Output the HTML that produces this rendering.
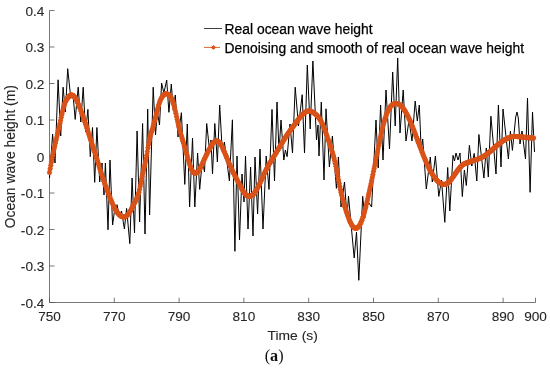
<!DOCTYPE html>
<html lang="en"><head><meta charset="utf-8"><title>Ocean wave height</title>
<style>html,body{margin:0;padding:0;background:#fff}body{width:550px;height:368px;overflow:hidden}</style></head>
<body>
<svg width="550" height="368" viewBox="0 0 550 368" style="display:block">
<rect width="550" height="368" fill="#fff"/>
<g stroke="#555" stroke-width="0.8" fill="none">
<path d="M49.5 10.5 V302.5 H535.5"/>
<path d="M49.5 10.5 h5 M49.5 47 h5 M49.5 83.5 h5 M49.5 120 h5 M49.5 156.5 h5 M49.5 193 h5 M49.5 229.5 h5 M49.5 266 h5 M49.5 302.5 h5 M49.5 302.5 v-4.8 M114.3 302.5 v-4.8 M179.1 302.5 v-4.8 M243.9 302.5 v-4.8 M308.7 302.5 v-4.8 M373.5 302.5 v-4.8 M438.3 302.5 v-4.8 M503.1 302.5 v-4.8 M535.5 302.5 v-4.8"/>
</g>
<path d="M49.5 178 L52.6 134 L55 163 L58.1 79.8 L60.7 136 L63.1 87.2 L65.4 112 L67.7 68.7 L70.8 98.3 L72.8 96.5 L73.6 101 L75.2 119.4 L78.2 87.2 L80.8 122 L83.2 87.2 L85.6 132 L87.9 109.4 L90.3 156.7 L92.5 127.5 L94.7 182.3 L96.9 127.5 L99.7 182 L102 163 L104 195 L105.4 163 L108 229.8 L110 160 L112.6 225 L115 207 L116.2 212 L117 204.7 L119.5 217 L121.5 211 L124.4 229 L126.6 208.4 L129.8 243.6 L132.1 178 L134.5 233 L137.1 131 L139.6 222 L142.6 123.5 L145 234 L147.7 109.2 L149.6 215 L153.2 87.2 L155.5 135 L157.4 112 L159.5 125 L161.6 83.1 L163.9 93 L166.7 80 L168.9 112.3 L171.3 84 L173.3 110 L175.3 95 L178 137 L181.4 112.7 L184.8 184.4 L187.3 124 L189.6 207 L192.5 138 L194.8 207 L197.6 153 L199.7 189.4 L202.3 160 L204.5 172 L206.7 123.5 L209.5 150 L211 140 L212.5 174 L214.8 123.5 L217.4 162 L219.7 105 L222.3 152 L224.4 142 L229.4 181 L232.4 119.8 L234.9 251.3 L237 156 L239.5 240 L242 174 L244 202 L245.5 156 L248 229 L250.6 167 L253 236 L255 157 L257.6 214 L260 149 L263 229 L266.2 156 L269 189.4 L272 109.4 L274.5 181 L277 102 L279 152 L281 120 L283.8 160 L285.4 150 L287.1 156.7 L290 124 L292.5 153 L295.2 87.2 L298.5 126 L302.2 94.7 L304.5 153 L307.3 65 L310.2 129 L312.9 61 L316.5 140 L318 125 L319 156 L321.3 102 L324 180 L326 108.8 L329.4 167 L332.4 136 L336.4 188.4 L338.4 157 L341 207 L344.5 182 L347 217 L348.5 196.3 L354.2 258 L356.5 232 L358.8 280.3 L362.7 196.3 L364.8 218 L367 200 L371.6 207 L376 120 L378.2 168 L380.6 105 L383 160 L386 90 L389.5 149 L392.7 72 L395.2 126 L397.7 58 L400 133 L403.2 90 L406 141 L409 120 L412 141 L415.2 101 L417.3 121 L419.3 105 L421.2 150 L422.7 139 L426.3 189 L430.3 157 L432.3 182 L435.4 156 L438.8 196.4 L441.5 180 L444.8 222.3 L447.7 167.5 L449.8 211 L453 155.4 L454.5 161 L456 153 L458 160 L460 153 L462.3 196.5 L464.4 170 L466.3 185.5 L469.4 145.3 L471.8 166 L474.2 153.4 L476.8 181 L478.9 134.5 L483.9 178 L486.3 148 L488.3 177 L490.9 116.2 L496 174 L498.4 105 L501 167 L503 109 L508.4 159 L510.4 131.2 L512.4 150.4 L515.7 117 L517 112 L518.3 118 L520 144 L522 131 L525.5 159 L527.5 98 L530.1 192.3 L532.5 112 L534.5 152" fill="none" stroke="#000" stroke-width="1" stroke-linejoin="round"/>
<defs><marker id="st" markerWidth="8" markerHeight="8" refX="4" refY="4" markerUnits="userSpaceOnUse" overflow="visible"><path d="M1.4 4 H6.6 M4 1.4 V6.6 M2.16 2.16 L5.84 5.84 M2.16 5.84 L5.84 2.16" stroke="#D95319" stroke-width="1.2" fill="none"/><circle cx="4" cy="4" r="2.25" fill="#D95319"/></marker></defs>
<polyline points="49.50,172.50 50.15,168.83 50.80,165.28 51.44,161.84 52.09,158.51 52.74,155.29 53.39,152.16 54.04,149.12 54.68,146.17 55.33,143.30 55.98,140.49 56.63,137.74 57.28,135.00 57.92,132.26 58.57,129.47 59.22,126.63 59.87,123.69 60.52,120.65 61.16,117.58 61.81,114.55 62.46,111.64 63.11,108.93 63.76,106.50 64.40,104.40 65.05,102.63 65.70,101.15 66.35,99.91 67.00,98.86 67.64,97.95 68.29,97.15 68.94,96.43 69.59,95.83 70.24,95.36 70.88,95.06 71.53,94.95 72.18,95.03 72.83,95.31 73.48,95.77 74.12,96.41 74.77,97.23 75.42,98.22 76.07,99.34 76.72,100.59 77.36,101.95 78.01,103.39 78.66,104.90 79.31,106.47 79.96,108.09 80.60,109.76 81.25,111.47 81.90,113.22 82.55,115.02 83.20,116.85 83.84,118.73 84.49,120.65 85.14,122.60 85.79,124.58 86.44,126.59 87.08,128.63 87.73,130.68 88.38,132.74 89.03,134.80 89.68,136.86 90.32,138.90 90.97,140.91 91.62,142.90 92.27,144.87 92.92,146.82 93.56,148.76 94.21,150.71 94.86,152.66 95.51,154.62 96.16,156.61 96.80,158.63 97.45,160.69 98.10,162.78 98.75,164.90 99.40,167.04 100.04,169.18 100.69,171.31 101.34,173.41 101.99,175.48 102.64,177.50 103.28,179.46 103.93,181.35 104.58,183.20 105.23,184.99 105.88,186.75 106.52,188.48 107.17,190.18 107.82,191.87 108.47,193.54 109.12,195.22 109.76,196.88 110.41,198.53 111.06,200.16 111.71,201.75 112.36,203.28 113.00,204.76 113.65,206.17 114.30,207.50 114.95,208.74 115.60,209.88 116.24,210.94 116.89,211.91 117.54,212.80 118.19,213.61 118.84,214.33 119.48,214.97 120.13,215.54 120.78,216.01 121.43,216.40 122.08,216.70 122.72,216.90 123.37,216.99 124.02,216.99 124.67,216.87 125.32,216.64 125.96,216.31 126.61,215.86 127.26,215.29 127.91,214.61 128.56,213.80 129.20,212.89 129.85,211.88 130.50,210.79 131.15,209.62 131.80,208.40 132.44,207.12 133.09,205.82 133.74,204.50 134.39,203.19 135.04,201.90 135.68,200.65 136.33,199.41 136.98,198.08 137.63,196.53 138.28,194.64 138.92,192.31 139.57,189.44 140.22,186.19 140.87,182.78 141.52,179.41 142.16,176.25 142.81,173.26 143.46,170.38 144.11,167.57 144.76,164.76 145.40,161.88 146.05,158.82 146.70,155.45 147.35,151.74 148.00,147.86 148.64,144.05 149.29,140.54 149.94,137.52 150.59,134.94 151.24,132.67 151.88,130.58 152.53,128.53 153.18,126.39 153.83,124.07 154.48,121.62 155.12,119.06 155.77,116.45 156.42,113.82 157.07,111.22 157.72,108.70 158.36,106.31 159.01,104.10 159.66,102.11 160.31,100.40 160.96,98.95 161.60,97.72 162.25,96.69 162.90,95.81 163.55,95.09 164.20,94.51 164.84,94.08 165.49,93.81 166.14,93.69 166.79,93.72 167.44,93.90 168.08,94.23 168.73,94.69 169.38,95.28 170.03,96.00 170.68,96.89 171.32,97.99 171.97,99.34 172.62,100.99 173.27,102.96 173.92,105.24 174.56,107.78 175.21,110.50 175.86,113.36 176.51,116.29 177.16,119.24 177.80,122.15 178.45,124.96 179.10,127.62 179.75,130.12 180.40,132.49 181.04,134.76 181.69,136.96 182.34,139.12 182.99,141.28 183.64,143.46 184.28,145.68 184.93,147.94 185.58,150.22 186.23,152.50 186.88,154.79 187.52,157.05 188.17,159.28 188.82,161.48 189.47,163.60 190.12,165.60 190.76,167.43 191.41,169.05 192.06,170.41 192.71,171.48 193.36,172.27 194.00,172.81 194.65,173.11 195.30,173.20 195.95,173.10 196.60,172.83 197.24,172.37 197.89,171.75 198.54,170.96 199.19,170.01 199.84,168.91 200.48,167.69 201.13,166.37 201.78,164.98 202.43,163.54 203.08,162.07 203.72,160.61 204.37,159.18 205.02,157.79 205.67,156.43 206.32,155.10 206.96,153.80 207.61,152.52 208.26,151.27 208.91,150.04 209.56,148.82 210.20,147.62 210.85,146.44 211.50,145.32 212.15,144.27 212.80,143.34 213.44,142.56 214.09,141.94 214.74,141.50 215.39,141.20 216.04,141.04 216.68,141.00 217.33,141.08 217.98,141.31 218.63,141.70 219.28,142.26 219.92,143.02 220.57,143.96 221.22,145.06 221.87,146.29 222.52,147.64 223.16,149.07 223.81,150.56 224.46,152.09 225.11,153.64 225.76,155.21 226.40,156.78 227.05,158.36 227.70,159.94 228.35,161.50 229.00,163.05 229.64,164.57 230.29,166.06 230.94,167.52 231.59,168.96 232.24,170.36 232.88,171.73 233.53,173.06 234.18,174.37 234.83,175.64 235.48,176.88 236.12,178.10 236.77,179.31 237.42,180.51 238.07,181.71 238.72,182.92 239.36,184.14 240.01,185.39 240.66,186.64 241.31,187.88 241.96,189.10 242.60,190.26 243.25,191.35 243.90,192.35 244.55,193.25 245.20,194.03 245.84,194.70 246.49,195.25 247.14,195.69 247.79,196.02 248.44,196.23 249.08,196.33 249.73,196.31 250.38,196.19 251.03,195.95 251.68,195.60 252.32,195.15 252.97,194.59 253.62,193.93 254.27,193.17 254.92,192.31 255.56,191.37 256.21,190.33 256.86,189.23 257.51,188.05 258.16,186.81 258.80,185.51 259.45,184.17 260.10,182.78 260.75,181.36 261.40,179.92 262.04,178.47 262.69,177.02 263.34,175.57 263.99,174.15 264.64,172.76 265.28,171.42 265.93,170.12 266.58,168.86 267.23,167.65 267.88,166.47 268.52,165.32 269.17,164.20 269.82,163.09 270.47,162.01 271.12,160.94 271.76,159.88 272.41,158.82 273.06,157.76 273.71,156.70 274.36,155.65 275.00,154.59 275.65,153.53 276.30,152.46 276.95,151.40 277.60,150.33 278.24,149.26 278.89,148.18 279.54,147.10 280.19,146.01 280.84,144.93 281.48,143.84 282.13,142.76 282.78,141.69 283.43,140.62 284.08,139.57 284.72,138.53 285.37,137.50 286.02,136.49 286.67,135.50 287.32,134.53 287.96,133.58 288.61,132.66 289.26,131.75 289.91,130.85 290.56,129.97 291.20,129.09 291.85,128.22 292.50,127.36 293.15,126.49 293.80,125.62 294.44,124.75 295.09,123.87 295.74,122.99 296.39,122.10 297.04,121.21 297.68,120.33 298.33,119.46 298.98,118.61 299.63,117.78 300.28,116.97 300.92,116.20 301.57,115.46 302.22,114.77 302.87,114.12 303.52,113.52 304.16,112.98 304.81,112.49 305.46,112.07 306.11,111.71 306.76,111.41 307.40,111.20 308.05,111.05 308.70,110.99 309.35,111.01 310.00,111.10 310.64,111.26 311.29,111.49 311.94,111.77 312.59,112.11 313.24,112.49 313.88,112.92 314.53,113.38 315.18,113.89 315.83,114.44 316.48,115.04 317.12,115.70 317.77,116.43 318.42,117.22 319.07,118.10 319.72,119.05 320.36,120.09 321.01,121.22 321.66,122.45 322.31,123.77 322.96,125.20 323.60,126.73 324.25,128.37 324.90,130.09 325.55,131.89 326.20,133.74 326.84,135.63 327.49,137.54 328.14,139.46 328.79,141.38 329.44,143.27 330.08,145.16 330.73,147.07 331.38,149.02 332.03,151.05 332.68,153.19 333.32,155.47 333.97,157.91 334.62,160.54 335.27,163.39 335.92,166.48 336.56,169.77 337.21,173.18 337.86,176.63 338.51,180.04 339.16,183.36 339.80,186.56 340.45,189.63 341.10,192.56 341.75,195.35 342.40,198.00 343.04,200.49 343.69,202.86 344.34,205.11 344.99,207.26 345.64,209.34 346.28,211.34 346.93,213.30 347.58,215.20 348.23,217.02 348.88,218.76 349.52,220.39 350.17,221.90 350.82,223.27 351.47,224.48 352.12,225.53 352.76,226.42 353.41,227.14 354.06,227.68 354.71,228.06 355.36,228.26 356.00,228.29 356.65,228.15 357.30,227.82 357.95,227.31 358.60,226.62 359.24,225.74 359.89,224.68 360.54,223.42 361.19,221.96 361.84,220.33 362.48,218.51 363.13,216.54 363.78,214.40 364.43,212.12 365.08,209.71 365.72,207.17 366.37,204.52 367.02,201.77 367.67,198.94 368.32,196.04 368.96,193.09 369.61,190.09 370.26,187.06 370.91,184.00 371.56,180.91 372.20,177.78 372.85,174.63 373.50,171.45 374.15,168.25 374.80,165.02 375.44,161.77 376.09,158.51 376.74,155.24 377.39,151.99 378.04,148.75 378.68,145.55 379.33,142.39 379.98,139.28 380.63,136.25 381.28,133.30 381.92,130.46 382.57,127.73 383.22,125.13 383.87,122.68 384.52,120.38 385.16,118.22 385.81,116.23 386.46,114.40 387.11,112.73 387.76,111.24 388.40,109.91 389.05,108.72 389.70,107.69 390.35,106.78 391.00,106.00 391.64,105.34 392.29,104.79 392.94,104.35 393.59,104.00 394.24,103.75 394.88,103.58 395.53,103.50 396.18,103.49 396.83,103.55 397.48,103.70 398.12,103.92 398.77,104.22 399.42,104.59 400.07,105.05 400.72,105.59 401.36,106.20 402.01,106.89 402.66,107.66 403.31,108.50 403.96,109.40 404.60,110.37 405.25,111.41 405.90,112.51 406.55,113.67 407.20,114.89 407.84,116.17 408.49,117.49 409.14,118.87 409.79,120.30 410.44,121.77 411.08,123.29 411.73,124.85 412.38,126.45 413.03,128.08 413.68,129.75 414.32,131.44 414.97,133.15 415.62,134.89 416.27,136.63 416.92,138.38 417.56,140.13 418.21,141.88 418.86,143.62 419.51,145.36 420.16,147.07 420.80,148.77 421.45,150.46 422.10,152.12 422.75,153.77 423.40,155.39 424.04,156.98 424.69,158.55 425.34,160.09 425.99,161.61 426.64,163.09 427.28,164.53 427.93,165.94 428.58,167.31 429.23,168.63 429.88,169.91 430.52,171.13 431.17,172.31 431.82,173.43 432.47,174.49 433.12,175.51 433.76,176.47 434.41,177.38 435.06,178.23 435.71,179.04 436.36,179.80 437.00,180.50 437.65,181.16 438.30,181.77 438.95,182.32 439.60,182.81 440.24,183.24 440.89,183.61 441.54,183.92 442.19,184.15 442.84,184.32 443.48,184.41 444.13,184.42 444.78,184.36 445.43,184.22 446.08,184.00 446.72,183.70 447.37,183.32 448.02,182.85 448.67,182.31 449.32,181.68 449.96,180.98 450.61,180.21 451.26,179.38 451.91,178.51 452.56,177.60 453.20,176.66 453.85,175.72 454.50,174.77 455.15,173.82 455.80,172.88 456.44,171.96 457.09,171.06 457.74,170.19 458.39,169.35 459.04,168.55 459.68,167.79 460.33,167.08 460.98,166.42 461.63,165.81 462.28,165.24 462.92,164.73 463.57,164.27 464.22,163.87 464.87,163.51 465.52,163.20 466.16,162.92 466.81,162.68 467.46,162.46 468.11,162.27 468.76,162.09 469.40,161.91 470.05,161.74 470.70,161.56 471.35,161.38 472.00,161.17 472.64,160.95 473.29,160.72 473.94,160.48 474.59,160.23 475.24,159.99 475.88,159.74 476.53,159.51 477.18,159.27 477.83,159.04 478.48,158.80 479.12,158.55 479.77,158.30 480.42,158.02 481.07,157.72 481.72,157.41 482.36,157.08 483.01,156.72 483.66,156.35 484.31,155.95 484.96,155.53 485.60,155.09 486.25,154.63 486.90,154.14 487.55,153.65 488.20,153.13 488.84,152.60 489.49,152.06 490.14,151.51 490.79,150.94 491.44,150.37 492.08,149.79 492.73,149.21 493.38,148.63 494.03,148.04 494.68,147.46 495.32,146.88 495.97,146.31 496.62,145.75 497.27,145.19 497.92,144.66 498.56,144.13 499.21,143.62 499.86,143.12 500.51,142.64 501.16,142.17 501.80,141.71 502.45,141.26 503.10,140.83 503.75,140.41 504.40,140.00 505.04,139.61 505.69,139.24 506.34,138.88 506.99,138.55 507.64,138.24 508.28,137.95 508.93,137.68 509.58,137.44 510.23,137.22 510.88,137.03 511.52,136.87 512.17,136.74 512.82,136.64 513.47,136.56 514.12,136.51 514.76,136.48 515.41,136.48 516.06,136.49 516.71,136.51 517.36,136.55 518.00,136.60 518.65,136.65 519.30,136.72 519.95,136.78 520.60,136.85 521.24,136.92 521.89,137.00 522.54,137.07 523.19,137.15 523.84,137.22 524.48,137.30 525.13,137.37 525.78,137.44 526.43,137.50 527.08,137.56 527.72,137.62 528.37,137.68 529.02,137.73 529.67,137.78 530.32,137.82 530.96,137.86 531.61,137.89 532.26,137.92 532.91,137.95 533.56,137.97" fill="none" stroke="#D95319" stroke-width="1.2" stroke-linejoin="round" marker-start="url(#st)" marker-mid="url(#st)" marker-end="url(#st)"/>
<g font-family="'Liberation Sans', Arial, sans-serif" font-size="13.6" fill="#262626" stroke="#262626" stroke-width="0.1">
<text x="44.3" y="15.6" text-anchor="end">0.4</text>
<text x="44.3" y="52.1" text-anchor="end">0.3</text>
<text x="44.3" y="88.6" text-anchor="end">0.2</text>
<text x="44.3" y="125.1" text-anchor="end">0.1</text>
<text x="44.3" y="161.6" text-anchor="end">0</text>
<text x="44.3" y="198.1" text-anchor="end">-0.1</text>
<text x="44.3" y="234.6" text-anchor="end">-0.2</text>
<text x="44.3" y="271.1" text-anchor="end">-0.3</text>
<text x="44.3" y="307.6" text-anchor="end">-0.4</text>
<text x="49.5" y="321.4" text-anchor="middle">750</text>
<text x="114.3" y="321.4" text-anchor="middle">770</text>
<text x="179.1" y="321.4" text-anchor="middle">790</text>
<text x="243.9" y="321.4" text-anchor="middle">810</text>
<text x="308.7" y="321.4" text-anchor="middle">830</text>
<text x="373.5" y="321.4" text-anchor="middle">850</text>
<text x="438.3" y="321.4" text-anchor="middle">870</text>
<text x="503.1" y="321.4" text-anchor="middle">890</text>
<text x="535.5" y="321.4" text-anchor="middle">900</text>
<text x="292.7" y="339.6" text-anchor="middle" textLength="50.3" lengthAdjust="spacingAndGlyphs">Time (s)</text>
<text transform="translate(14.6 156.7) rotate(-90) scale(1 1.1)" text-anchor="middle" textLength="143" lengthAdjust="spacingAndGlyphs">Ocean wave height (m)</text>
<text x="224.6" y="34.1" font-size="14" fill="#000" stroke="#000" stroke-width="0.25" textLength="148" lengthAdjust="spacingAndGlyphs">Real ocean wave height</text>
<text x="224.6" y="52.8" font-size="14" fill="#000" stroke="#000" stroke-width="0.25" textLength="299.5" lengthAdjust="spacingAndGlyphs">Denoising and smooth of real ocean wave height</text>
</g>
<path d="M204 28.5 H222" stroke="#000" stroke-width="0.75"/>
<path d="M204 47.4 H220" stroke="#D95319" stroke-width="0.9"/>
<path d="M213.4 45.2 v4.4 M211.2 47.4 h4.4 M211.8 45.8 l3.2 3.2 M211.8 49 l3.2 -3.2" stroke="#D95319" stroke-width="1"/><circle cx="213.4" cy="47.4" r="1.7" fill="#D95319"/>
<text x="274.1" y="361" text-anchor="middle" font-family="'Liberation Serif', 'Times New Roman', serif" font-size="16.2" fill="#111">(<tspan font-weight="bold">a</tspan>)</text>
</svg>
</body></html>
